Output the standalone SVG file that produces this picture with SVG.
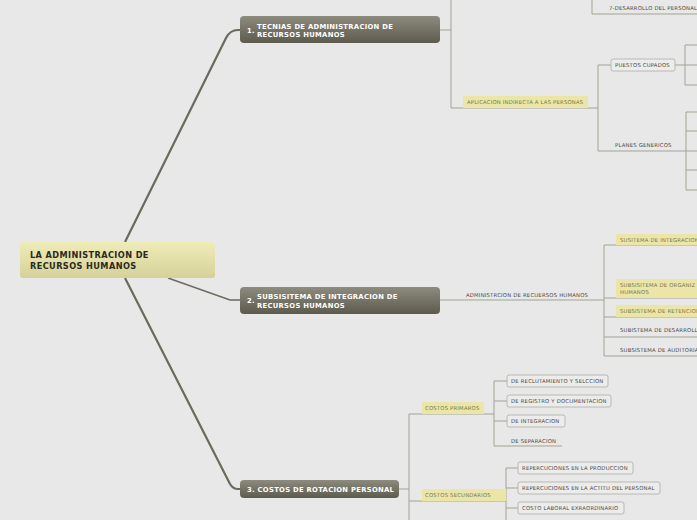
<svg xmlns="http://www.w3.org/2000/svg" width="697" height="520" viewBox="0 0 697 520">
<defs>
<linearGradient id="gy" x1="0" y1="0" x2="0" y2="1"><stop offset="0" stop-color="#f0ecb8"/><stop offset="1" stop-color="#d5d199"/></linearGradient>
<linearGradient id="gg" x1="0" y1="0" x2="0" y2="1"><stop offset="0" stop-color="#8c8b7d"/><stop offset="1" stop-color="#5c5b4d"/></linearGradient>
</defs>
<style>
.c{fill:none;stroke:#a3a396;stroke-width:1}
.m{fill:none;stroke:#6b6a5c}
.t{font-family:"DejaVu Sans",sans-serif;font-size:5.3px;letter-spacing:0.2px;fill:#4a4a44}
.ty{font-family:"DejaVu Sans",sans-serif;font-size:5.3px;letter-spacing:0.2px;fill:#77774a}
.w{font-family:"DejaVu Sans",sans-serif;font-size:6.8px;letter-spacing:0.3px;font-weight:bold;fill:#fff}
.b{fill:#ececec;stroke:#b8b8b0;stroke-width:1}
.y{fill:#ebe6a8}
</style>
<rect width="697" height="520" fill="#e8e8e8"/>
<g id="connectors">
<path class="m" stroke-width="2.2" d="M125,242 L226,38 Q230,30 238,30 L240,30"/>
<path class="m" stroke-width="1.4" d="M168,278 L230,300 L240,300"/>
<path class="m" stroke-width="2.2" d="M125,278 L230,484 Q233,489 238,489 L240,489"/>
<path class="c" d="M440,30 H451 M451,0 V108 H598 M592,0 V14 H697 M598,65 V151 M598,65 H611 M598,151 H686 M675,65 H685 M685,45 V85 M685,45 H697 M685,65 H697 M685,85 H697 M686,112 V190 M686,112 H697 M686,131 H697 M686,151 H697 M686,170 H697 M686,190 H697"/>
<path class="c" d="M440,300 H604 M604,245 V356 M604,245 H697 M604,298 H697 M604,317 H697 M604,337 H697 M604,356 H697"/>
<path class="c" d="M399,489 H409 M409,414 V520 M409,414 H494 M494,381 V446 M494,381 H507 M494,401 H507 M494,421 H507 M494,446 H562 M409,501 H506 M506,468 V520 M506,468 H518 M506,488 H518 M506,508 H518"/>
</g>
<g id="root"><rect x="20" y="242" width="195" height="36" rx="3" fill="url(#gy)"/>
<text x="30" y="258" font-family="DejaVu Sans,sans-serif" font-size="8.2" letter-spacing="0.4" font-weight="bold" fill="#2a2a20">LA ADMINISTRACION DE</text>
<text x="30" y="269" font-family="DejaVu Sans,sans-serif" font-size="8.2" letter-spacing="0.4" font-weight="bold" fill="#2a2a20">RECURSOS HUMANOS</text></g>
<g id="n1"><rect x="240" y="16" width="200" height="27" rx="4" fill="url(#gg)"/>
<text class="w" x="247" y="33">1.</text><text class="w" x="257" y="29">TECNIAS DE ADMINISTRACION DE</text><text class="w" x="257" y="37">RECURSOS HUMANOS</text></g>
<g id="n2"><rect x="240" y="287" width="200" height="27" rx="4" fill="url(#gg)"/>
<text class="w" x="247" y="303">2.</text><text class="w" x="257" y="299">SUBSISITEMA DE INTEGRACION DE</text><text class="w" x="257" y="308">RECURSOS HUMANOS</text></g>
<g id="n3"><rect x="240" y="480" width="159" height="18" rx="4" fill="url(#gg)"/>
<text class="w" x="247" y="492">3. COSTOS DE ROTACION PERSONAL</text></g>
<g id="n1a"><text class="t" x="609" y="10">7-DESARROLLO DEL PERSONAL</text></g>
<g id="n1b"><rect class="y" x="463" y="96" width="125" height="12"/><text class="ty" x="467" y="104">APLICACION INDIRECTA A LAS PERSONAS</text></g>
<g id="n1c"><rect class="b" x="611" y="59" width="64" height="12" rx="2"/><text class="t" x="615" y="67">PUESTOS CUPADOS</text></g>
<g id="n1d"><text class="t" x="615" y="147">PLANES GENERICOS</text></g>
<g id="n2a"><text class="t" x="466" y="297">ADMINISTRCION DE RECUERSOS HUMANOS</text></g>
<g id="n2b"><rect class="y" x="616" y="234" width="81" height="11"/><text class="ty" x="620" y="242">SUSITEMA DE INTEGRACION</text></g>
<g id="n2c"><rect class="y" x="616" y="279" width="81" height="19"/><text class="ty" x="620" y="287">SUBSISITEMA DE ORGANIZ</text><text class="ty" x="620" y="294">HUMANOS</text></g>
<g id="n2d"><rect class="y" x="616" y="305" width="81" height="12"/><text class="ty" x="620" y="313">SUBSISTEMA DE RETENCION</text></g>
<g id="n2e"><text class="t" x="620" y="332">SUBISTEMA DE DESARROLLO</text></g>
<g id="n2f"><text class="t" x="620" y="352">SUBSISTEMA DE AUDITORIA</text></g>
<g id="n3a"><rect class="y" x="422" y="402" width="62" height="12"/><text class="ty" x="425" y="410">COSTOS PRIMAROS</text></g>
<g id="n3b"><rect class="b" x="507" y="375" width="101" height="12" rx="2"/><text class="t" x="511" y="383">DE RECLUTAMIENTO Y SELCCION</text></g>
<g id="n3c"><rect class="b" x="507" y="395" width="104" height="12" rx="2"/><text class="t" x="511" y="403">DE REGISTRO Y DOCUMENTACION</text></g>
<g id="n3d"><rect class="b" x="507" y="415" width="58" height="12" rx="2"/><text class="t" x="511" y="423">DE INTEGRACION</text></g>
<g id="n3e"><text class="t" x="511" y="443">DE SEPARACION</text></g>
<g id="n3f"><rect class="y" x="422" y="489" width="84" height="12"/><text class="ty" x="425" y="497">COSTOS SECUNDARIOS</text></g>
<g id="n3g"><rect class="b" x="518" y="462" width="115" height="12" rx="2"/><text class="t" x="522" y="470">REPERCUCIONES EN LA PRODUCCION</text></g>
<g id="n3h"><rect class="b" x="518" y="482" width="142" height="12" rx="2"/><text class="t" x="522" y="490">REPERCUCIONES EN LA ACTITU DEL PERSONAL</text></g>
<g id="n3i"><rect class="b" x="518" y="502" width="106" height="12" rx="2"/><text class="t" x="522" y="510">COSTO LABORAL EXRAORDINARIO</text></g>
</svg>
